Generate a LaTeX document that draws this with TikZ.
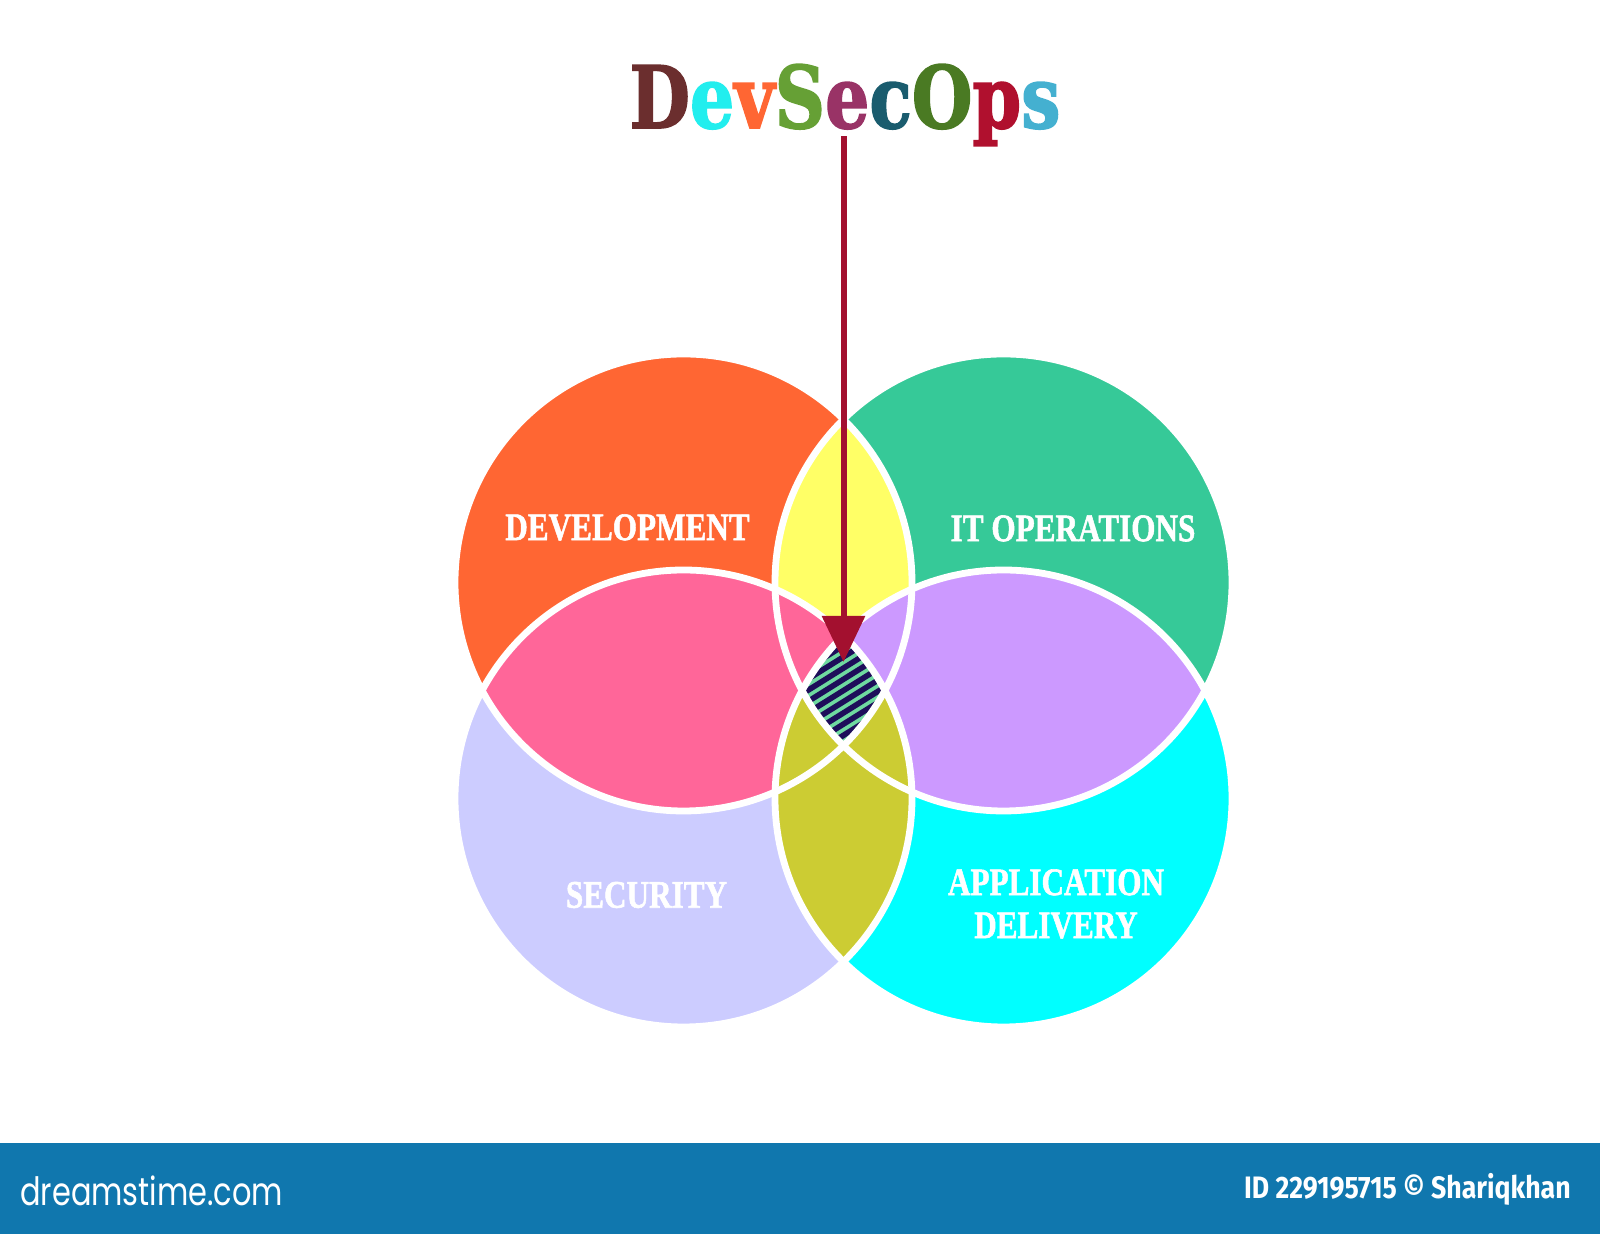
\documentclass[tikz,border=0pt]{standalone}
\usepackage{fontspec}
\usetikzlibrary{math,arrows.meta}

\newfontfamily\titlefont[FakeBold=2]{DejaVu Serif}
\newfontfamily\areafont[FakeBold=1.5]{Liberation Serif}
\newfontfamily\barfont{Fira Sans}
\newfontfamily\logofont{Poppins}

\definecolor{devorange}{HTML}{FF6633}
\definecolor{opsteal}{HTML}{36C998}
\definecolor{seclav}{HTML}{CCCCFF}
\definecolor{delcyan}{HTML}{00FFFF}
\definecolor{lensyellow}{HTML}{FFFF66}
\definecolor{lenspink}{HTML}{FF6699}
\definecolor{lenspurple}{HTML}{CC99FF}
\definecolor{lensolive}{HTML}{CCCC33}
\definecolor{stripenavy}{HTML}{1E0E5A}
\definecolor{stripemint}{HTML}{6FD9A0}
\definecolor{arrowred}{HTML}{A3102F}
\definecolor{barblue}{HTML}{1077AE}

\begin{document}
\begin{tikzpicture}[x=0.5pt, y=0.5pt,
  areaname/.style={text=white, font=\areafont\bfseries\fontsize{19.5}{21.5}\selectfont, xscale=0.8, align=center, inner sep=0pt},
  rim/.style={draw=white, line width=3.4pt}]
  \tikzmath{\r = 228.5; \xl = 683.5; \xr = 1003.5; \yt = 651.5; \yb = 435.5;}

  \fill[white] (0, 0) rectangle (1600, 1234);
  \useasboundingbox (0, 0) rectangle (1600, 1234);

  % the four circles
  \fill[devorange] (\xl, \yt) circle (\r);
  \fill[opsteal] (\xr, \yt) circle (\r);
  \fill[seclav] (\xl, \yb) circle (\r);
  \fill[delcyan] (\xr, \yb) circle (\r);

  % dev and ops lens
  \begin{scope}
    \clip (\xl, \yt) circle (\r);
    \fill[lensyellow] (\xr, \yt) circle (\r);
  \end{scope}
  % dev and sec lens
  \begin{scope}
    \clip (\xl, \yt) circle (\r);
    \fill[lenspink] (\xl, \yb) circle (\r);
  \end{scope}
  % ops and delivery lens
  \begin{scope}
    \clip (\xr, \yt) circle (\r);
    \fill[lenspurple] (\xr, \yb) circle (\r);
  \end{scope}
  % sec and delivery lens
  \begin{scope}
    \clip (\xl, \yb) circle (\r);
    \fill[lensolive] (\xr, \yb) circle (\r);
  \end{scope}

  % all four: devsecops core
  \begin{scope}
    \clip (\xl, \yt) circle (\r);
    \clip (\xr, \yt) circle (\r);
    \clip (\xl, \yb) circle (\r);
    \clip (\xr, \yb) circle (\r);
    \fill[stripemint] (700, 400) rectangle (1000, 700);
    \begin{scope}[shift={(843.5, 543.5)}, rotate=32]
      \foreach \k in {-12,...,12}
        \fill[stripenavy] (-150, \k*9.5-2.8) rectangle (150, \k*9.5+2.8);
    \end{scope}
  \end{scope}

  % white rims
  \draw[rim] (\xl, \yt) circle (\r);
  \draw[rim] (\xr, \yt) circle (\r);
  \draw[rim] (\xl, \yb) circle (\r);
  \draw[rim] (\xr, \yb) circle (\r);

  \node[areaname] (dev) at (627.5, 706.5) {DEVELOPMENT};
  \node[areaname] (ops) at (1073, 705.5) {IT OPERATIONS};
  \node[areaname] (sec) at (646.5, 339) {SECURITY};
  \node[areaname] (del) at (1056, 330) {APPLICATION\\DELIVERY};

  % title
  \node[anchor=base, inner sep=0pt, xscale=0.81,
    font=\titlefont\bfseries\fontsize{43}{45}\selectfont] (title) at (845, 1106)
    {\textcolor[HTML]{6B2E2E}{D}\textcolor[HTML]{22EEEE}{e}\textcolor[HTML]{FF6633}{v}%
     \textcolor[HTML]{66A035}{S}\textcolor[HTML]{993366}{e}\textcolor[HTML]{1A5C6E}{c}%
     \textcolor[HTML]{4A7A23}{O}\textcolor[HTML]{B0102E}{p}\textcolor[HTML]{44B0D0}{s}};

  \coordinate (core) at (843.5, 572);
  \draw[arrowred, line width=3pt, -{Triangle[width=21pt, length=23pt]}]
    ([yshift=5pt]title.south -| core) -- (core);

  % stock bar
  \fill[barblue] (0, 0) rectangle (1600, 91);
  \node[anchor=base west, inner sep=0pt, text=white, xscale=0.78,
    font=\logofont\fontsize{19.5}{21}\selectfont] (site) at (20, 28) {dreamstime.com};
  \node[anchor=base east, inner sep=0pt, text=white, xscale=0.86,
    font=\barfont\bfseries\fontsize{15.5}{17}\selectfont] (credit) at (1571, 35) {ID 229195715 © Shariqkhan};
\end{tikzpicture}
\end{document}
